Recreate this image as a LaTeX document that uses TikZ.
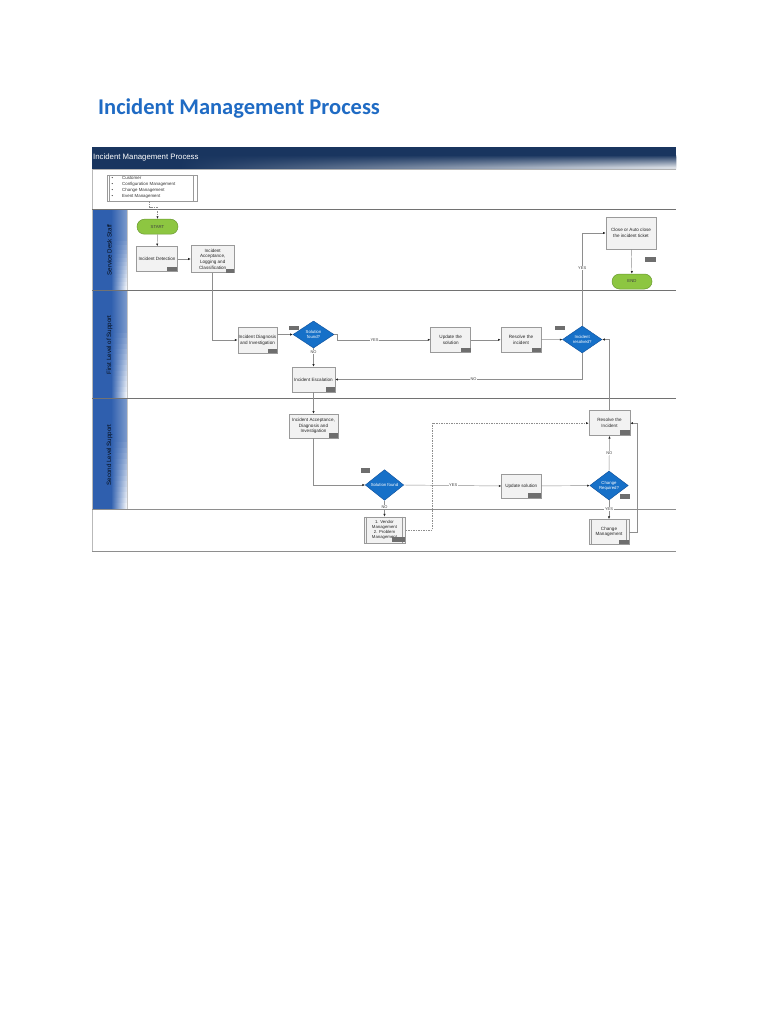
\documentclass[tikz,border=0pt]{standalone}
\usepackage{fontspec}
\setmainfont{Liberation Sans}
\newfontfamily\titlefont{Carlito}
\usetikzlibrary{shapes.geometric,arrows.meta,calc}
\definecolor{titleblue}{HTML}{1F6BC4}
\definecolor{navy}{HTML}{19355F}
\definecolor{laneblue}{HTML}{2F5FAE}
\definecolor{boxfill}{HTML}{F2F2F2}
\definecolor{boxline}{HTML}{9A9A9A}
\definecolor{lnc}{HTML}{8E8E8E}
\definecolor{lanec}{HTML}{727272}
\definecolor{dmd}{HTML}{1670C8}
\definecolor{dmdline}{HTML}{0E4F9A}
\definecolor{pillc}{HTML}{8DC641}
\definecolor{pillline}{HTML}{6A9A30}
\definecolor{tagc}{HTML}{6E6E6E}
\newcommand\bxfont{\fontsize{4.6}{5.7}\selectfont}
\tikzset{
  sz/.style 2 args={minimum width=#1, minimum height=#2},
  proc/.style={rectangle, draw=boxline, fill=boxfill, line width=0.5pt, align=center,
    font=\bxfont, inner sep=0.5pt, text=black!85},
  dec/.style={diamond, draw=dmdline, fill=dmd, line width=0.4pt, text=white, inner sep=0pt,
    align=center, font=\fontsize{4.3}{5.2}\selectfont},
  term/.style={rectangle, rounded corners=7.5pt, draw=pillline, fill=pillc, line width=0.5pt,
    text=black!75, font=\fontsize{4.3}{5}\selectfont, inner sep=0.5pt},
  conn/.style={draw=lnc, line width=0.45pt, -{Latex[length=2.6pt,width=2.2pt,color=black!85]}},
  dashpat/.style={dash pattern=on 1.5pt off 1pt},
  lbl/.style={font=\fontsize{4}{4.5}\selectfont, fill=white, inner sep=0.6pt, text=black!75},
  lanelbl/.style={rotate=90, font=\fontsize{6.2}{7}\selectfont, text=black!75!navy, inner sep=0},
  lanefrm/.style={draw=lanec, line width=1pt},
  tagbox/.style={fill=tagc}
}
\begin{document}
\begin{tikzpicture}[x=1pt,y=-1pt]
\useasboundingbox[fill=white] (0,0) rectangle (768,1024);
% title
\node[anchor=base west, inner sep=0, text=titleblue, font=\titlefont\bfseries\fontsize{22.5}{27}\selectfont] (title) at (98,115) {Incident Management Process};
% header bar
\fill[navy] (92,147) rectangle (676,169);
\foreach \k in {0,...,12}{
  \pgfmathtruncatemacro\pc{100-7*\k}
  \shade[left color=navy, middle color=navy!\pc!white, right color=navy!\pc!white]
    (180,{156+\k}) rectangle (676,{157.3+\k});
}
\node[anchor=west, text=white, font=\fontsize{7.8}{9}\selectfont, inner sep=0] (htitle) at (93,157) {Incident Management Process};
% lane label column
\foreach \ya/\yb in {210/290,290/398,398/509.5}{
  \fill[laneblue] (92,\ya) rectangle (111,\yb);
  \pgfmathsetmacro\ym{\ya+0.4*(\yb-\ya)}
  \shade[left color=laneblue, right color=laneblue!62!white] (111,\ya) rectangle (127,\ym);
  \foreach \k in {0,...,11}{
    \pgfmathtruncatemacro\pc{57-5*\k}
    \pgfmathsetmacro\sa{\ym+\k*0.05*(\yb-\ya)}
    \pgfmathsetmacro\sb{\ym+(\k+1)*0.05*(\yb-\ya)+0.3}
    \shade[left color=laneblue, right color=laneblue!\pc!white] (111,\sa) rectangle (127,{min(\sb,\yb)});
  }
}
\node[lanelbl] (l1) at (109.5,250) {Service Desk Staff};
\node[lanelbl] (l2) at (109.5,345) {First Level of Support};
\node[lanelbl] (l3) at (109.5,455) {Second Level Support};
% frame lines
\draw[gray!60, line width=1pt] (92,169.5) -- (676,169.5);
\draw[gray!55, line width=0.6pt] (92,169.5) -- (92,551.5);
\draw[gray!45, line width=0.5pt] (127,210) -- (127,509.5);
\draw[lanefrm] (92,210) -- (676,210);
\draw[lanefrm] (92,290) -- (676,290);
\draw[lanefrm] (92,398.5) -- (676,398.5);
\draw[lanefrm, draw=lanec!80] (92,509.5) -- (676,509.5);
\draw[lanefrm, draw=lanec!80] (92,551.5) -- (676,551.5);
% input list
\node[draw=boxline, fill=white, line width=0.5pt, sz={90}{26}, anchor=north west, inner sep=0] (list) at (106.7,175) {};
\draw[boxline, line width=0.4pt] ([xshift=2.3pt]list.north west) -- ([xshift=2.3pt]list.south west);
\draw[boxline, line width=0.4pt] ([xshift=-4.5pt]list.north east) -- ([xshift=-4.5pt]list.south east);
\node[anchor=north west, align=left, font=\fontsize{4.4}{6}\selectfont, inner sep=0, text=black!80] (items) at (111.5,176) {%
\makebox[10.5pt][l]{\textbullet}Customer\\
\makebox[10.5pt][l]{\textbullet}Configuration Management\\
\makebox[10.5pt][l]{\textbullet}Change Management\\
\makebox[10.5pt][l]{\textbullet}Event Management};
% service desk lane
\node[term, sz={41}{15}] (start) at (157.5,226.7) {START};
\node[proc, sz={40.6}{25}] (det) at (157,259) {Incident Detection};
\node[proc, sz={43.3}{27}] (acc) at (212.7,259) {Incident\\Acceptance,\\Logging and\\Classification};
\node[proc, sz={50}{32}] (close) at (631,233) {Close or Auto close\\the incident ticket};
\node[term, sz={40}{15}] (end) at (632,281.5) {END};
% first level lane
\node[proc, sz={39.5}{26}] (diag) at (257.5,340) {Incident Diagnosis\\and Investigation};
\node[dec, sz={41}{27}] (sf1) at (313.5,334.5) {Solution\\found?};
\node[proc, sz={43}{25}] (esc) at (313.5,379.5) {Incident Escalation};
\node[proc, sz={40}{25.5}] (upd1) at (450.7,339.8) {Update the\\solution};
\node[proc, sz={40}{25.5}] (res1) at (521,339.8) {Resolve the\\incident};
\node[dec, sz={39.5}{25}] (ir) at (582.2,339.5) {Incident\\resolved?};
% second level lane
\node[proc, sz={48.7}{24}] (acc2) at (313.5,426) {Incident Acceptance,\\Diagnosis and\\Investigation};
\node[dec, sz={38.5}{23}] (sf2) at (384.5,485) {Solution found};
\node[proc, sz={41.5}{26}, font=\fontsize{4.3}{5.2}\selectfont, yshift=-0.8pt] (pm) at (384.5,529) {1. Vendor\\Management\\2. Problem\\Management};
\draw[boxline, line width=0.4pt] ([xshift=3pt]pm.north west) -- ([xshift=3pt]pm.south west);
\draw[boxline, line width=0.4pt] ([xshift=-3pt]pm.north east) -- ([xshift=-3pt]pm.south east);
\node[proc, sz={39.3}{24}] (upd2) at (521.3,486) {Update solution};
\node[dec, sz={38.5}{25}] (cr) at (609,485.5) {Change\\Required?};
\node[proc, sz={41}{25}] (res2) at (609.5,423.2) {Resolve the\\Incident};
\node[proc, sz={40}{25}] (chg) at (609,531.8) {Change\\Management};
\draw[boxline, line width=0.4pt] ([xshift=2.7pt]chg.north west) -- ([xshift=2.7pt]chg.south west);
\draw[boxline, line width=0.4pt] ([xshift=-3.3pt]chg.north east) -- ([xshift=-3.3pt]chg.south east);
% tags
\fill[tagbox] (166.7,267) rectangle (176.5,271);
\fill[tagbox] (225.5,268.8) rectangle (234,272.5);
\fill[tagbox] (268,348.5) rectangle (277,352.5);
\fill[tagbox] (289,325.5) rectangle (298.5,330);
\fill[tagbox] (326,386.5) rectangle (334.8,391.5);
\fill[tagbox] (461,347.5) rectangle (470.5,352.3);
\fill[tagbox] (532,347.5) rectangle (540.8,352.3);
\fill[tagbox] (555,325.5) rectangle (565,330);
\fill[tagbox] (645,257) rectangle (656,261.5);
\fill[tagbox] (329,433.3) rectangle (338,437.8);
\fill[tagbox] (360.5,468) rectangle (369.5,473);
\fill[tagbox] (392,537.3) rectangle (405,541.8);
\fill[tagbox] (528,492.8) rectangle (540.8,497.8);
\fill[tagbox] (619.5,493.8) rectangle (629.5,499);
\fill[tagbox] (619.5,430) rectangle (629.5,434.5);
\fill[tagbox] (619,539.5) rectangle (628.8,544);
% connectors
\draw[conn, dashpat] ([xshift=-2.4pt]list.south) -- ++(0,6) -| (start.north);
\draw[conn] (start) -- (det);
\draw[conn] (det) -- (acc);
\draw[conn] (acc.south) |- (diag.west);
\draw[conn] (sf1.west -| diag.east) -- (sf1.west);
\draw[conn] (sf1.east) -- ++(3,0) |- (upd1.west) node[lbl, pos=0.7] {YES};
\draw[conn] (sf1.south) -- (esc.north) node[lbl, pos=0.22] {NO};
\draw[conn] (upd1) -- (res1);
\draw[conn] (res1) -- (ir);
\draw[conn] (ir.north) |- (close.west) node[lbl, pos=0.31] {YES};
\draw[conn] (ir.south) |- (esc.east) node[lbl, pos=0.72] {NO};
\draw[conn] (close) -- (end);
\draw[conn] (res2.north) |- (ir.east);
\draw[conn] (esc.south) -- (acc2.north);
\draw[conn] (acc2.south) |- (sf2.west);
\draw[conn] (sf2.east) -- (upd2.west) node[lbl, pos=0.505] {YES};
\draw[conn] (sf2.south) -- (pm.north) node[lbl, pos=0.42] {NO};
\draw[conn, dashpat] (pm.east) -- ++(27,0) |- (res2.west);
\draw[conn] (upd2) -- (cr);
\draw[conn] (cr.north) -- (res2.south) node[lbl, pos=0.5] {NO};
\draw[conn] (cr.south) -- (chg.north) node[lbl, pos=0.45] {YES};
\draw[conn] (chg.east) -- ++(8,0) |- (res2.east);
\end{tikzpicture}
\end{document}
